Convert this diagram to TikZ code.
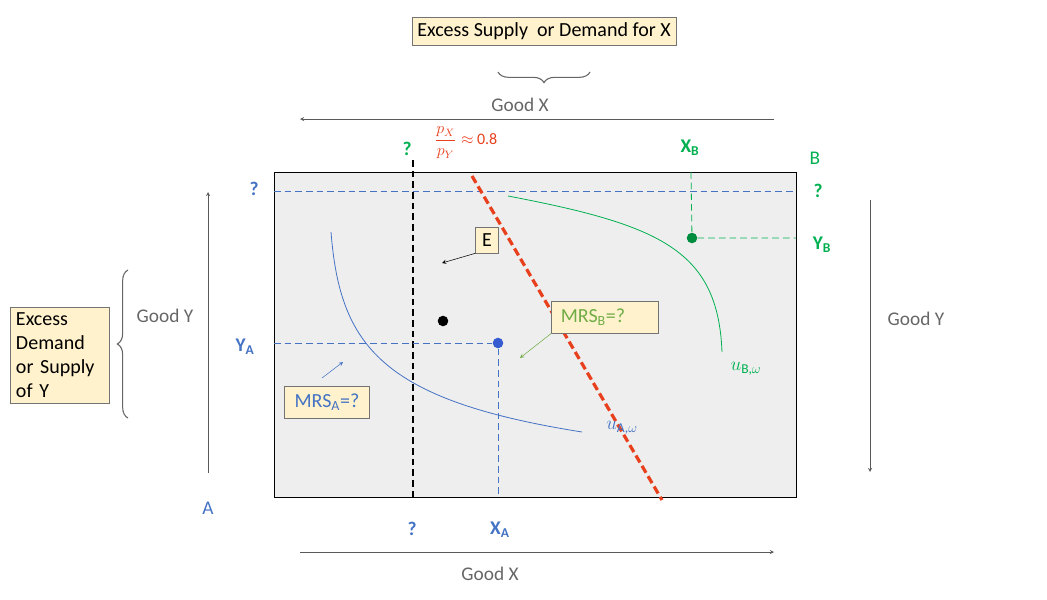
\documentclass[tikz,border=0pt]{standalone}
\usepackage{fontspec}
\setmainfont{Carlito}
\usepackage{amsmath}
\usepackage{tikz}
\usetikzlibrary{decorations.pathreplacing}
\definecolor{ablue}{HTML}{4472C4}
\definecolor{bgreen}{HTML}{00B050}
\definecolor{lgreen}{HTML}{70AD47}
\definecolor{pricered}{HTML}{E8401C}
\definecolor{notefill}{HTML}{FFF2CC}
\tikzset{
  note/.style={draw=gray!90!black, fill=notefill, inner sep=4pt, font=\fontsize{15}{18}\selectfont},
  axis/.style={draw=gray!70!black, -stealth},
  lbl/.style={font=\fontsize{14.5}{17}\selectfont},
  albl/.style={lbl, text=ablue, font=\fontsize{14.5}{17}\selectfont\bfseries},
  blbl/.style={lbl, text=bgreen, font=\fontsize{14.5}{17}\selectfont\bfseries},
  dashA/.style={draw=ablue, dash pattern=on 5pt off 3pt, semithick},
  dashB/.style={draw=bgreen, dash pattern=on 5pt off 3pt, semithick},
}
\begin{document}
\begin{tikzpicture}[x=0.75pt, y=-0.75pt]
  \useasboundingbox (0,0) rectangle (1047,600);
  % box
  \draw[fill=gray!13] (274,172) rectangle (796,497);
  % top and side notes
  \node[note] (exx) at (544,31) {Excess Supply\ \ or Demand for X};
  \draw[gray!80!black, thick, decorate, decoration={brace, amplitude=8pt, mirror}] (498,72) -- (590,72);
  \node[note, text width=66pt, align=left] (exy) at (60,355) {Excess\\Demand\\or Supply\\of Y};
  \draw[gray!80!black, thick, decorate, decoration={brace, amplitude=8pt}] (128,418) -- (128,270);
  % axes
  \coordinate (xt0) at (774,119); \coordinate (xt1) at (300,119);
  \draw[axis] (xt0) -- (xt1);
  \node[lbl, text=gray!80!black] (gxt) at (520,105) {Good X};
  \coordinate (xb0) at (300,552); \coordinate (xb1) at (774,552);
  \draw[axis] (xb0) -- (xb1);
  \node[lbl, text=gray!80!black] (gxb) at (490,574) {Good X};
  \coordinate (yl0) at (208,473); \coordinate (yl1) at (208,192);
  \draw[axis] (yl0) -- (yl1);
  \node[lbl, text=gray!80!black] (gyl) at (165,316) {Good Y};
  \coordinate (yr0) at (870,200); \coordinate (yr1) at (870,472);
  \draw[axis] (yr0) -- (yr1);
  \node[lbl, text=gray!80!black] (gyr) at (916,319) {Good Y};
  \node[lbl, text=ablue] (oA) at (208,508) {A};
  \node[lbl, text=bgreen] (oB) at (815,158) {B};
  % question lines
  \coordinate (q0) at (274,191); \coordinate (q1) at (796,191);
  \draw[dashA] (q0) -- (q1);
  \node[albl] (qyl) at (254,189) {?};
  \node[blbl] (qyr) at (818,191) {?};
  \coordinate (v0) at (413,160); \coordinate (v1) at (413,497);
  \draw[black, dash pattern=on 5pt off 3pt, thick] (v0) -- (v1);
  \node[blbl] (qxt) at (407,149) {?};
  \node[albl] (qxb) at (412,529) {?};
  % price line
  \coordinate (p0) at (472,176); \coordinate (p1) at (662,500);
  \draw[pricered, dash pattern=on 6pt off 3pt, line width=2.4pt] (p0) -- (p1);
  \node[text=pricered, font=\fontsize{12}{14}\selectfont] (price) at (466,143) {$\dfrac{p_X}{p_Y}\approx$ 0.8};
  % endowment B
  \node[circle, fill=bgreen!80!black, inner sep=2.8pt] (wB) at (692,238) {};
  \coordinate (xBt) at (691,172); \coordinate (yBr) at (796,238);
  \draw[dashB] (xBt) -- (wB) -- (yBr);
  \node[blbl] (xB) at (690,148) {X\textsubscript{B}};
  \node[blbl] (yB) at (822,245) {Y\textsubscript{B}};
  \coordinate (uB0) at (508,196); \coordinate (uB1) at (722,352);
  \draw[bgreen, semithick] (uB0) .. controls (660,225) and (718,250) .. (uB1);
  \node[lbl, text=bgreen] (uB) at (746,369) {$u$\textsubscript{B,$\omega$}};
  % endowment A
  \node[circle, fill=ablue!80!blue, inner sep=2.8pt] (wA) at (498,343) {};
  \coordinate (yAl) at (274,343); \coordinate (xAb) at (498,497);
  \draw[dashA] (yAl) -- (wA) -- (xAb);
  \node[albl] (yA) at (245,347) {Y\textsubscript{A}};
  \node[albl] (xA) at (500,530) {X\textsubscript{A}};
  \coordinate (uA0) at (331,232); \coordinate (uA1) at (582,432);
  \draw[ablue, semithick] (uA0) .. controls (340,345) and (380,400) .. (uA1);
  \node[lbl, text=ablue] (uA) at (622,428) {$u$\textsubscript{A,$\omega$}};
  % equilibrium
  \node[circle, fill=black, inner sep=2.8pt] (eq) at (443,321) {};
  \node[note, inner sep=5pt] (E) at (487,240) {E};
  \coordinate (Ep) at (442,263);
  \draw[-stealth] (E.south west) -- (Ep);
  % MRS notes
  \node[note, text=lgreen, minimum width=80pt, minimum height=24pt, align=left] (mrsB) at (605,317) {MRS\textsubscript{B}=?\hspace{18pt}};
  \coordinate (mB) at (520,358);
  \draw[lgreen, -stealth] (mrsB.south west) -- (mB);
  \node[note, text=ablue, minimum width=64pt, minimum height=24pt] (mrsA) at (327,402) {MRS\textsubscript{A}=?};
  \coordinate (mA0) at (322,378); \coordinate (mA) at (343,362);
  \draw[ablue, -stealth] (mA0) -- (mA);
\end{tikzpicture}
\end{document}
